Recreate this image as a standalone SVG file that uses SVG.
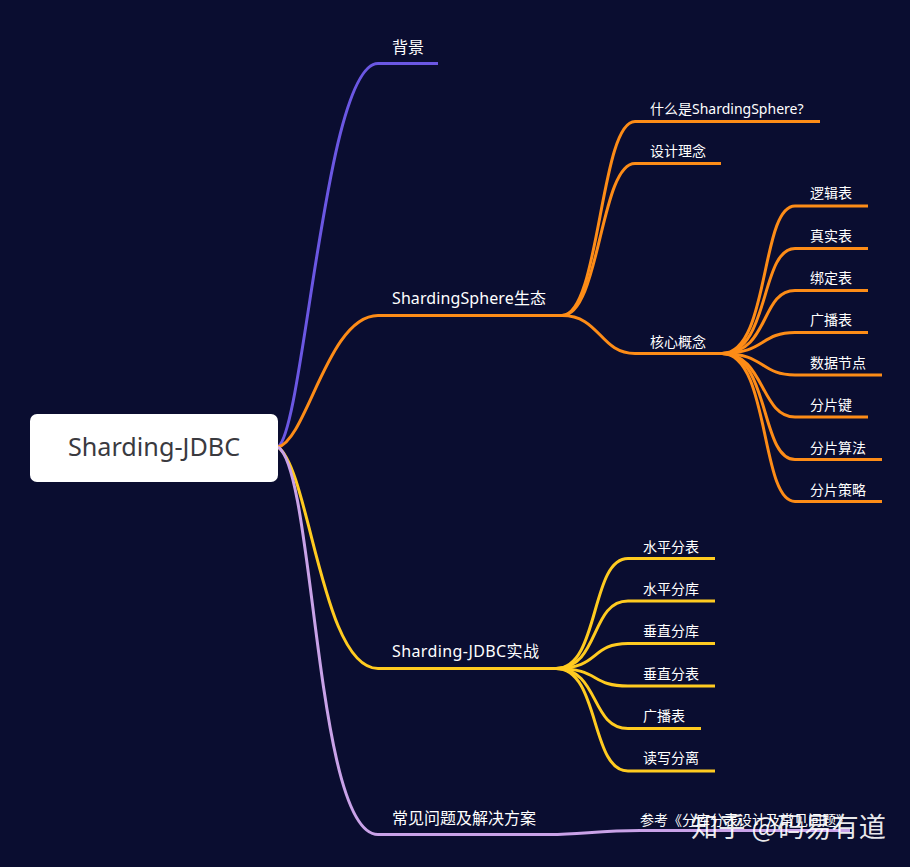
<svg xmlns="http://www.w3.org/2000/svg" width="910" height="867" viewBox="0 0 910 867">
<style>
text{font-family:"Noto Sans","Noto Sans CJK SC",sans-serif;fill:#fff}
.l1{font-size:16px}
.l2{font-size:14px}
.root{font-size:25.2px;fill:#3a3a3f;text-anchor:middle}
.wm{font-family:"Noto Sans CJK SC","Noto Sans",sans-serif;font-size:27.2px;fill:#fff;fill-opacity:.92}
path{fill:none;stroke-linecap:butt}
.p{stroke:#6b57e3;stroke-width:3}
.o{stroke:#fd8c17;stroke-width:3}
.y{stroke:#ffcb20;stroke-width:3}
.v{stroke:#c9a2e8;stroke-width:3}
</style>
<rect width="910" height="867" fill="#0a0d30"/>
<g id="connectors">
<path class="p" d="M278 447C304 430 325 63.500 378 63.500H438"/>
<path class="o" d="M278 447C307 440 328 315.500 378 315.500H562"/>
<path class="y" d="M278 447C310 470 322 668.500 378 668.500H560"/>
<path class="v" d="M278 447C315 470 315 834.500 378 834.500H550C580 834.500 600 830.500 640 830.500H850"/>
<path class="o" d="M562 315.500C600 315.500 600 121.500 635 121.500H820"/>
<path class="o" d="M562 315.500C600 315.500 600 163.500 635 163.500H721"/>
<path class="o" d="M562 315.500C600 315.500 600 353.500 635 353.500H722"/>
<path class="o" d="M722 353.500C770 353.500 760 206 795 206H868"/>
<path class="o" d="M722 353.500C770 353.500 760 248.500 795 248.500H868"/>
<path class="o" d="M722 353.500C770 353.500 760 290.500 795 290.500H868"/>
<path class="o" d="M722 353.500C765 353.500 760 332.500 795 332.500H868"/>
<path class="o" d="M722 353.500C765 353.500 760 375 795 375H882"/>
<path class="o" d="M722 353.500C765 353.500 760 417 795 417H868"/>
<path class="o" d="M722 353.500C770 353.500 760 459.500 795 459.500H882"/>
<path class="o" d="M722 353.500C770 353.500 760 501.500 795 501.500H882"/>
<path class="y" d="M556 668.500C600 668.500 590 558.500 628 558.500H715"/>
<path class="y" d="M556 668.500C600 668.500 590 601 628 601H715"/>
<path class="y" d="M556 668.500C600 668.500 590 643.500 628 643.500H715"/>
<path class="y" d="M556 668.500C600 668.500 590 686 628 686H715"/>
<path class="y" d="M556 668.500C600 668.500 590 728.500 628 728.500H701"/>
<path class="y" d="M556 668.500C600 668.500 590 771 628 771H715"/>
</g>
<g id="root"><rect x="30" y="414" width="248" height="68" rx="7" fill="#fff"/><text class="root" x="154" y="456">Sharding-JDBC</text></g>
<g id="n-bg"><text class="l1" x="392" y="52.500">背景</text></g>
<g id="n-ss"><text class="l1" x="392" y="303.500" letter-spacing=".1">ShardingSphere生态</text></g>
<g id="n-jdbc"><text class="l1" x="392" y="656.500" letter-spacing=".4">Sharding-JDBC实战</text></g>
<g id="n-faq"><text class="l1" x="392" y="824">常见问题及解决方案</text></g>
<g id="n-what"><text class="l2" x="650" y="113.500">什么是ShardingSphere?</text></g>
<g id="n-design"><text class="l2" x="650" y="155.500">设计理念</text></g>
<g id="n-core"><text class="l2" x="650" y="346.500">核心概念</text></g>
<g id="n-logic"><text class="l2" x="810" y="198">逻辑表</text></g>
<g id="n-real"><text class="l2" x="810" y="240.500">真实表</text></g>
<g id="n-bind"><text class="l2" x="810" y="282.500">绑定表</text></g>
<g id="n-broad"><text class="l2" x="810" y="325">广播表</text></g>
<g id="n-data"><text class="l2" x="810" y="367.500">数据节点</text></g>
<g id="n-key"><text class="l2" x="810" y="410">分片键</text></g>
<g id="n-algo"><text class="l2" x="810" y="452.500">分片算法</text></g>
<g id="n-strat"><text class="l2" x="810" y="494.500">分片策略</text></g>
<g id="n-h1"><text class="l2" x="643" y="552">水平分表</text></g>
<g id="n-h2"><text class="l2" x="643" y="594">水平分库</text></g>
<g id="n-v1"><text class="l2" x="643" y="636">垂直分库</text></g>
<g id="n-v2"><text class="l2" x="643" y="679">垂直分表</text></g>
<g id="n-b2"><text class="l2" x="643" y="721">广播表</text></g>
<g id="n-rw"><text class="l2" x="643" y="763">读写分离</text></g>
<g id="n-ref"><text class="l2" x="640" y="824.500">参考《分库分表设计及常见问题》</text></g>
<text class="wm" x="691" y="837">知乎 @码易有道</text>
</svg>
